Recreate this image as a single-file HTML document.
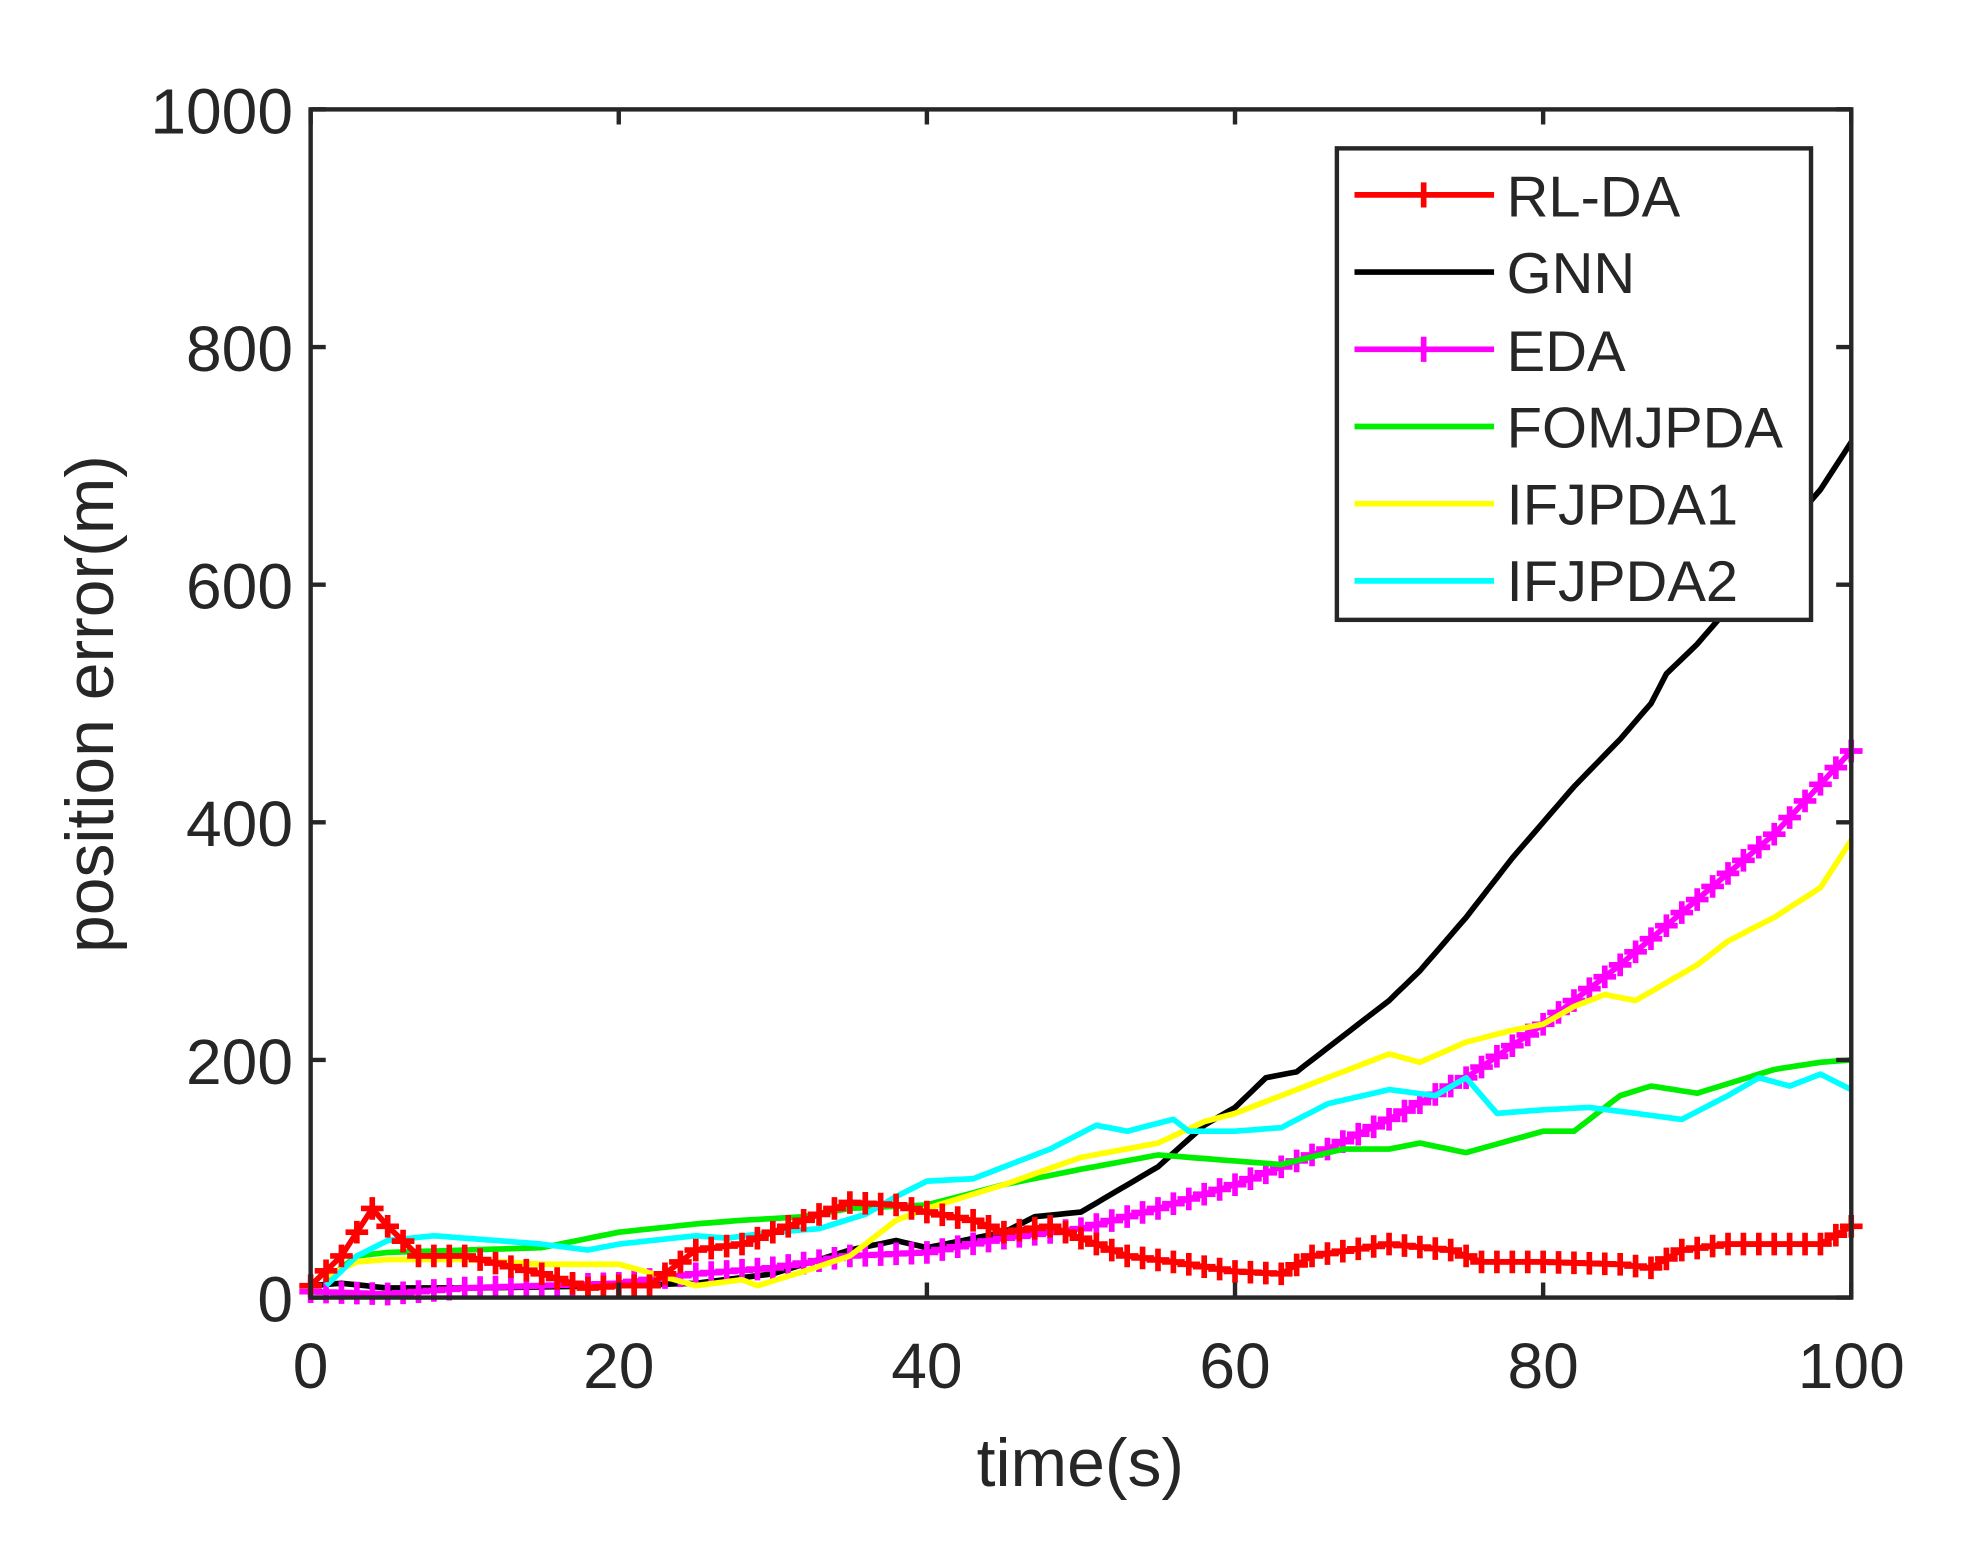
<!DOCTYPE html>
<html><head><meta charset="utf-8"><style>
html,body{margin:0;padding:0;background:#fff;}
svg{display:block;}
text{font-family:"Liberation Sans",sans-serif;fill:#262626;}
</style></head><body>
<svg id="s" width="1972" height="1544" viewBox="0 0 1568 1228" preserveAspectRatio="none" xmlns="http://www.w3.org/2000/svg">
<rect width="1568" height="1228" fill="#fff"/>
<g id="plot"></g>
<rect x="247" y="87" width="1225" height="945" fill="none" stroke="#262626" stroke-width="3.5"/>
<g id="ticks" stroke="#262626" stroke-width="3.5"></g>
<g font-size="51" text-anchor="end">
<text x="233" y="1051">0</text><text x="233" y="862">200</text><text x="233" y="673">400</text><text x="233" y="484">600</text><text x="233" y="295">800</text><text x="233" y="106">1000</text>
</g>
<g font-size="51" text-anchor="middle">
<text x="247" y="1104">0</text><text x="492" y="1104">20</text><text x="737" y="1104">40</text><text x="982" y="1104">60</text><text x="1227" y="1104">80</text><text x="1472" y="1104">100</text>
</g>
<text x="859" y="1182" font-size="54" text-anchor="middle">time(s)</text>
<text transform="translate(90,560) rotate(-90)" font-size="54" text-anchor="middle">position error(m)</text>
<rect x="1063" y="118" width="377" height="375" fill="#fff" stroke="#262626" stroke-width="3.5"/>
<g id="leg"></g>
<g font-size="46">
<text x="1198" y="172">RL-DA</text><text x="1198" y="233">GNN</text><text x="1198" y="295">EDA</text><text x="1198" y="356">FOMJPDA</text><text x="1198" y="417">IFJPDA1</text><text x="1198" y="478">IFJPDA2</text>
</g>
</svg>
<script>
var NS="http://www.w3.org/2000/svg";
function X(t){return 247+t*12.25;}function Y(v){return 1032-v*0.945;}
function parse(s){return s.split(",").map(function(p){var a=p.split(":");return [+a[0],+a[1]];});}
var D={
gnn:"0:10,2:12,5:8,10:8,20:10,25:12,30:20,35:40,38:48,40:42,45:55,47:68,50:72,55:110,58:145,60:160,62:185,64:190,66:210,70:250,72:275,75:320,78:370,80:400,82:430,85:470,87:500,88:525,90:550,92:580,94:620,96:650,98:680,100:720",
eda:"0:5,5:3,10:8,20:12,25:20,30:25,35:35,40:38,45:50,50:58,55:75,60:95,63:110,66:125,70:150,75:185,80:230,85:280,90:335,95:390,100:460",
fom:"1:15,3:35,5:38,10:40,15:42,20:55,25:62,28:65,32:68,35:75,40:78,45:95,50:108,55:120,60:115,63:112,67:125,70:125,72:130,75:122,80:140,82:140,85:170,87:178,90:172,95:192,98:198,100:200",
if1:"1:18,3:30,5:32,10:32,15:28,20:28,25:10,28:15,29:10,32:22,35:35,38:65,40:75,45:95,50:118,55:130,58:148,60:155,63:170,66:185,70:205,72:198,75:215,78:225,80:230,82:245,84:255,86:250,88:265,90:280,92:300,95:320,98:345,100:385",
if2:"1:10,3:35,5:48,8:52,10:50,15:45,18:40,20:45,25:52,27:50,30:55,33:58,36:70,38:85,40:98,43:100,45:110,48:125,51:145,53:140,56:150,57:140,60:140,63:143,66:163,70:175,73:170,75:185,77:155,80:158,83:160,86:155,89:150,92:170,94:185,96:178,98:188,100:175",
rl:"0:10,2:35,4:75,5:60,7:35,10:35,15:20,18:8,20:10,22:10,25:40,28:45,30:55,33:70,35:80,38:78,40:72,43:65,45:55,48:60,50:50,53:35,56:30,60:22,63:20,65:35,70:45,74:40,76:30,80:30,85:28,87:25,89:40,92:45,95:45,98:45,100:60"};
function interp(p,t){for(var i=0;i<p.length-1;i++){if(t>=p[i][0]&&t<=p[i+1][0]){var f=(t-p[i][0])/(p[i+1][0]-p[i][0]);return p[i][1]+f*(p[i+1][1]-p[i][1]);}}return p[p.length-1][1];}
var g=document.getElementById("plot");
function line(key,col,w,mk){var p=parse(D[key]);var t0=p[0][0];var d="";
for(var t=t0;t<=100;t+=0.5){d+=(d?"L":"M")+X(t).toFixed(1)+" "+Y(interp(p,t)).toFixed(1);}
var e=document.createElementNS(NS,"path");e.setAttribute("d",d);e.setAttribute("fill","none");e.setAttribute("stroke",col);e.setAttribute("stroke-width",w);e.setAttribute("stroke-linejoin","round");g.appendChild(e);
if(mk){var m="";for(var t=t0;t<=100;t++){var x=X(t),y=Y(interp(p,t));m+="M"+(x-9)+" "+y+"h18M"+x+" "+(y-9)+"v18";}
var e2=document.createElementNS(NS,"path");e2.setAttribute("d",m);e2.setAttribute("stroke",col);e2.setAttribute("stroke-width",4.5);g.appendChild(e2);}}
line("gnn","#000",4.5,false);line("eda","#ff00ff",4.5,true);line("fom","#00ee00",4.5,false);line("if1","#ffff00",4.5,false);line("if2","#00ffff",4.5,false);line("rl","#ff0000",4.5,true);
var tk=document.getElementById("ticks"),s="";
for(var i=0;i<=5;i++){var x=247+i*245;s+="M"+x+" 1032v-12M"+x+" 87v12";var y=1032-i*189;s+="M247 "+y+"h12M1472 "+y+"h-12";}
var e=document.createElementNS(NS,"path");e.setAttribute("d",s);tk.appendChild(e);
var lg=document.getElementById("leg");var cols=["#ff0000","#000","#ff00ff","#00ee00","#ffff00","#00ffff"];
for(var i=0;i<6;i++){var y=155+i*61.4;var l=document.createElementNS(NS,"path");var d="M1077 "+y+"h111";if(i==0||i==2)d+="M1132 "+(y-10)+"v20";l.setAttribute("d",d);l.setAttribute("stroke",cols[i]);l.setAttribute("stroke-width",4.5);l.setAttribute("fill","none");lg.appendChild(l);}
</script>
</body></html>
